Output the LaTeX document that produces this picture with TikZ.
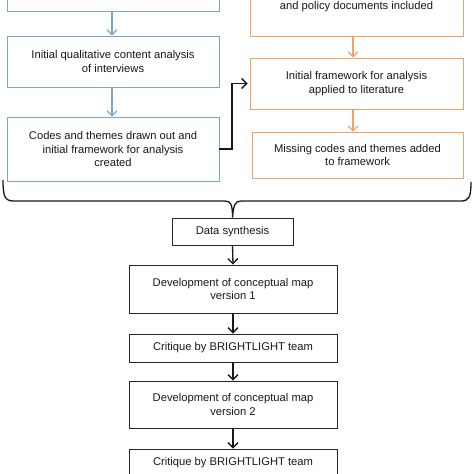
\documentclass[tikz,border=0pt]{standalone}
\usepackage{fontspec}
\setmainfont{Liberation Sans}
\usetikzlibrary{arrows.meta}
\definecolor{bluebox}{HTML}{7BA5D4}
\definecolor{orangebox}{HTML}{ECA46C}
\begin{document}
\begin{tikzpicture}[x=1pt,y=-1pt,
  box/.style={draw, rectangle, align=center, inner sep=0pt, font=\fontsize{11.2}{13.5}\selectfont, text=black!90},
  bbox/.style={box, draw=bluebox, line width=0.9pt},
  obox/.style={box, draw=orangebox, line width=0.9pt},
  kbox/.style={box, draw=black!85, line width=1pt},
  barrow/.style={draw=bluebox, line width=1.1pt, -{Straight Barb[length=5pt,width=10pt]}},
  oarrow/.style={draw=orangebox, line width=1.1pt, -{Straight Barb[length=5pt,width=10pt]}},
  karrow/.style={draw=black!90, line width=1.3pt, -{Straight Barb[length=5pt,width=10pt]}}
]
\useasboundingbox[fill=white] (0,0) rectangle (474,474);
% blue column
\node[bbox, minimum width=212pt, minimum height=41pt] (b1) at (113,-9.5) {};
\node[bbox, minimum width=212pt, minimum height=51pt] (b2) at (113,61.5) {Initial qualitative content analysis\\of interviews};
\node[bbox, minimum width=212pt, minimum height=64pt] (b3) at (113,149) {Codes and themes drawn out and\\initial framework for analysis\\created};
% orange column
\node[obox, minimum width=213pt, minimum height=58pt] (o1) at (356.5,7) {and policy documents included};
\node[obox, minimum width=213pt, minimum height=51pt] (o2) at (356.5,83.5) {Initial framework for analysis\\applied to literature};
\node[obox, minimum width=211pt, minimum height=46pt] (o3) at (357.5,155) {Missing codes and themes added\\to framework};
% black column
\node[kbox, minimum width=121pt, minimum height=27pt] (ds) at (232.5,231.5) {Data synthesis};
\node[kbox, minimum width=208pt, minimum height=48pt] (d1) at (233,289) {Development of conceptual map\\version 1};
\node[kbox, minimum width=208pt, minimum height=28pt] (c1) at (233,348) {Critique by BRIGHTLIGHT team};
\node[kbox, minimum width=208pt, minimum height=47pt] (d2) at (233,404.5) {Development of conceptual map\\version 2};
\node[kbox, minimum width=208pt, minimum height=28pt] (c2) at (233,463) {Critique by BRIGHTLIGHT team};
% arrows
\draw[barrow] (b1.south -| b2.north) ++(-1,0) coordinate (bt1) (bt1) -- (bt1 |- b2.north);
\draw[barrow] (b2.south) ++(-1,0) coordinate (bt2) (bt2) -- (bt2 |- b3.north);
\draw[oarrow] (o1.south) ++(-3.5,0) coordinate (ot1) (ot1) -- (ot1 |- o2.north);
\draw[oarrow] (o2.south) ++(-3.5,0) coordinate (ot2) (ot2) -- (ot2 |- o3.north);
\coordinate (elbow) at (232,149);
\draw[karrow] (b3.east) -- (elbow) -- (elbow |- o2.west) -- ([xshift=-2pt]o2.west);
\draw[karrow] (ds.south) -- (d1.north);
\draw[karrow] (d1.south) -- (c1.north);
\draw[karrow] (c1.south) -- (d2.north);
\draw[karrow] (d2.south) -- (c2.north);
% brace
\coordinate (brL) at (3,180);
\coordinate (brR) at (471,182);
\draw[black!90, line width=1.3pt]
  (brL) .. controls (3,197) and (5,201) .. (14,201) -- (225,201)
  .. controls (231,201) and (232.5,205) .. (ds.north)
  (ds.north) .. controls (233.5,205) and (235,201) .. (241,201) -- (461,201)
  .. controls (469,201) and (471,197) .. (brR);
\end{tikzpicture}
\end{document}
